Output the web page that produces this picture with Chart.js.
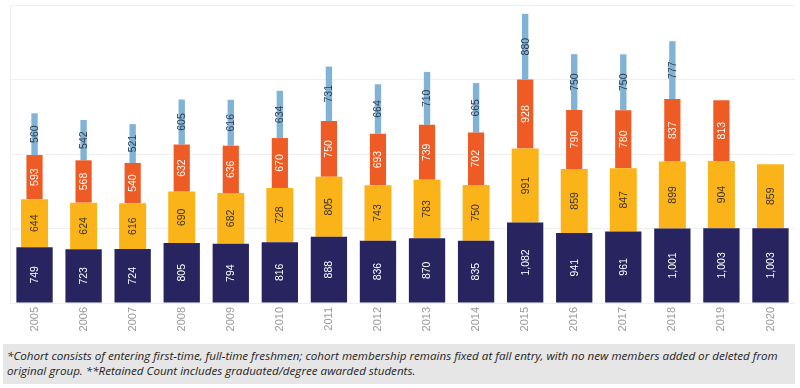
<!DOCTYPE html>
<html>
<head>
<meta charset="utf-8">
<script src="https://cdn.jsdelivr.net/npm/chart.js@4/dist/chart.umd.min.js"></script>
<style>
  html, body { margin: 0; padding: 0; background: #fff; }
  body { width: 800px; height: 388px; position: relative; overflow: hidden; }
  #wrap { position: absolute; left: 0; top: 0; width: 800px; height: 340px; }
  #note {
    position: absolute; left: 3px; top: 344px; width: 792px; height: 40px;
    background: #e6e6e6; box-sizing: border-box; padding: 4px 0 0 4px;
    font-family: "Open Sans", "Liberation Sans", sans-serif; font-style: italic;
    font-size: 10.5px; line-height: 15px; color: #1e1e1e; white-space: nowrap;
  }
</style>
</head>
<body>
<div id="wrap"><canvas id="c"></canvas></div>
<div id="note"><span id="l1">*Cohort consists of entering first-time, full-time freshmen; cohort membership remains fixed at fall entry, with no new members added or deleted from</span><br><span id="l2">original group. **Retained Count includes graduated/degree awarded students.</span></div>
<script>
const years = ["2005","2006","2007","2008","2009","2010","2011","2012","2013","2014","2015","2016","2017","2018","2019","2020"];
const cohort   = [749,723,724,805,794,816,888,836,870,835,1082,941,961,1001,1003,1003];
const second   = [644,624,616,690,682,728,805,743,783,750,991,859,847,899,904,859];
const third    = [593,568,540,632,636,670,750,693,739,702,928,790,780,837,813,null];
const fourth   = [560,542,521,605,616,634,731,664,710,665,880,750,750,777,null,null];
const yTicks   = [0,1000,2000,3000,4000];

// fit footnote line width
(function(){
  const l1 = document.getElementById('l1');
  const note = document.getElementById('note');
  const target = 771;
  const w = l1.getBoundingClientRect().width;
  const fs = parseFloat(getComputedStyle(note).fontSize);
  note.style.fontSize = (fs * target / w).toFixed(2) + 'px';
})();

const labelPlugin = {
  id: 'segLabels',
  afterDatasetsDraw(chart) {
    const ctx = chart.ctx;
    chart.data.datasets.forEach((ds, di) => {
      const meta = chart.getDatasetMeta(di);
      meta.data.forEach((el, i) => {
        const v = ds.data[i];
        if (v == null) return;
        const p = el.getProps(['x','y','base'], true);
        const cy = (p.y + p.base) / 2;
        ctx.save();
        ctx.translate(p.x, cy);
        ctx.rotate(-Math.PI / 2);
        ctx.font = '10.5px "Liberation Sans", Arial, sans-serif';
        ctx.fillStyle = ds.labelColor;
        ctx.textAlign = 'center';
        ctx.textBaseline = 'middle';
        ctx.fillText(v.toLocaleString('en-US'), 0, 0.5);
        ctx.restore();
      });
    });
  }
};

new Chart(document.getElementById('c'), {
  type: 'bar',
  data: {
    labels: years,
    datasets: [
      { data: cohort, backgroundColor: '#27245f', barPercentage: 0.74, labelColor: '#ffffff' },
      { data: second, backgroundColor: '#fbb31a', barPercentage: 0.55, labelColor: '#3a3322' },
      { data: third,  backgroundColor: '#ee5b24', barPercentage: 0.33, labelColor: '#ffffff' },
      { data: fourth, backgroundColor: '#80b3d6', barPercentage: 0.13, labelColor: '#2b3b52' }
    ]
  },
  options: {
    responsive: true,
    maintainAspectRatio: false,
    animation: false,
    layout: { padding: { left: 10, right: 5, top: 5, bottom: 6 } },
    plugins: { legend: { display: false }, tooltip: { enabled: false } },
    datasets: { bar: { categoryPercentage: 1.0 } },
    scales: {
      x: {
        stacked: true,
        grid: { display: false, drawTicks: false },
        border: { display: false },
        afterFit(axis) { axis.height = 31; },
        ticks: {
          minRotation: 90, maxRotation: 90, padding: 4,
          color: '#9a9a9a',
          font: { family: '"Liberation Sans", Arial, sans-serif', size: 11 }
        }
      },
      y: {
        stacked: true,
        min: 0, max: 4000,
        afterBuildTicks(axis) { axis.ticks = yTicks.map(v => ({ value: v })); },
        ticks: { display: false },
        grid: { color: '#efefef', drawTicks: false },
        border: { display: true, color: '#f0f0f0' }
      }
    }
  },
  plugins: [labelPlugin]
});
</script>
</body>
</html>
